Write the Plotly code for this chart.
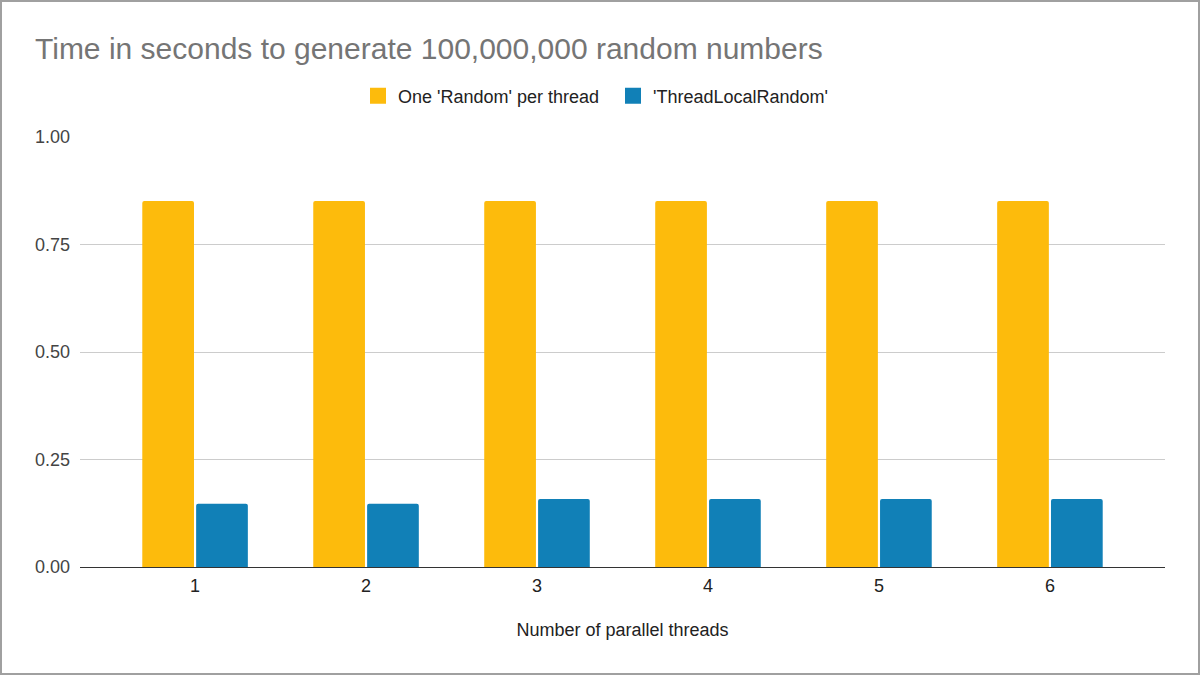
import plotly.graph_objects as go

threads = [1, 2, 3, 4, 5, 6]
tick_labels = ["1", "2", "3", "4", "5", "6"]
one_random = [0.851, 0.851, 0.851, 0.851, 0.851, 0.851]
thread_local = [0.147, 0.147, 0.158, 0.158, 0.158, 0.158]
y_ticks = [0, 0.25, 0.5, 0.75, 1.0]
series_names = ["One 'Random' per thread", "'ThreadLocalRandom'"]
series_colors = ["#fdbb0c", "#1180b7"]

W, H = 1200, 675
L, R, T, B = 80, 35, 137, 108
pw, ph = W - L - R, H - T - B

FONT = "Arial, Liberation Sans, sans-serif"
legend_left = [358, 613]   # left edge (px) of each legend box
legend_ids = ["legend", "legend2"]

fig = go.Figure()
for vals, name, col in zip([one_random, thread_local], series_names, series_colors):
    fig.add_trace(go.Bar(x=threads, y=vals, name=name, showlegend=False,
                         marker=dict(color=col, line=dict(width=0))))
# legend swatches (larger squares than plotly's default bar swatch)
for name, col, lg in zip(series_names, series_colors, legend_ids):
    fig.add_trace(go.Scatter(x=[None], y=[None], mode="markers", name=name,
                             legend=lg,
                             marker=dict(symbol="square", size=16, color=col)))

legend_style = dict(orientation="h", xanchor="left", xref="container",
                    y=1 - 96 / H, yanchor="middle", yref="container",
                    font=dict(family=FONT, size=18, color="#222222"),
                    itemsizing="trace", itemwidth=30,
                    bgcolor="rgba(0,0,0,0)", borderwidth=0)

fig.update_layout(
    width=W, height=H,
    margin=dict(l=L, r=R, t=T, b=B),
    paper_bgcolor="white", plot_bgcolor="white",
    font=dict(family=FONT, color="#444444"),
    barmode="group", bargap=0.37, bargroupgap=0.04, barcornerradius=2,
    title=dict(text="Time in seconds to generate 100,000,000 random numbers",
               x=35 / W, xanchor="left", xref="container",
               y=1 - 48 / H, yanchor="middle", yref="container",
               font=dict(family=FONT, size=30, color="#757575")),
    legend=dict(x=legend_left[0] / W, **legend_style),
    legend2=dict(x=legend_left[1] / W, **legend_style),
    xaxis=dict(range=[0.327, 6.673], tickvals=threads, ticktext=tick_labels,
               showgrid=False, zeroline=False, showline=False, ticks="",
               ticklabelstandoff=6,
               tickfont=dict(size=18, color="#222222"),
               title=dict(text="Number of parallel threads", standoff=28,
                          font=dict(size=18, color="#222222"))),
    yaxis=dict(range=[0, 1.0], tickvals=y_ticks, tickformat=".2f",
               showgrid=True, gridcolor="#cccccc", gridwidth=1,
               zeroline=True, zerolinecolor="#333333", zerolinewidth=1,
               showline=False, ticks="", ticklabelstandoff=9,
               tickfont=dict(size=18, color="#444444")),
    shapes=[dict(type="rect", xref="paper", yref="paper",
                 x0=(1 - L) / pw, x1=(W - 1 - L) / pw,
                 y0=(H - B - (H - 1)) / ph, y1=(H - B - 1) / ph,
                 line=dict(color="#a0a0a0", width=2), fillcolor="rgba(0,0,0,0)",
                 layer="above")],
)

fig.write_html("out.html", config={"displayModeBar": False},
               post_script="document.body.style.margin='0px';")
